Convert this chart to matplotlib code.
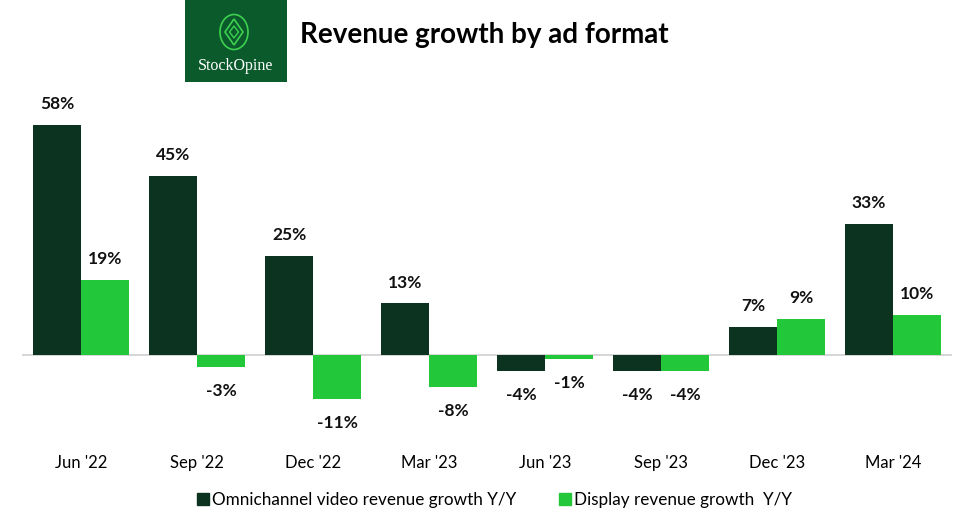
import matplotlib
matplotlib.use("Agg")
import matplotlib.pyplot as plt
from matplotlib.patches import Rectangle, Ellipse, Polygon
from matplotlib.lines import Line2D
import numpy as np

categories = ["Jun '22", "Sep '22", "Dec '22", "Mar '23", "Jun '23", "Sep '23", "Dec '23", "Mar '24"]
omni_video = [58, 45, 25, 13, -4, -4, 7, 33]
display = [19, -3, -11, -8, -1, -4, 9, 10]
series_names = ["Omnichannel video revenue growth Y/Y", "Display revenue growth  Y/Y"]

DARK = "#0b3320"
LIGHT = "#22c83a"
LOGO = "#0b5a2b"

plt.rcParams['font.family'] = ['Lato', 'DejaVu Sans']

W, H = 975, 532
fig = plt.figure(figsize=(W / 100, H / 100), dpi=100)

def fx(px):
    return px / W

def fy(py):
    return 1 - py / H

ax = fig.add_axes([fx(22), fy(440), fx(952) - fx(22), fy(85) - fy(440)])
x = np.arange(len(categories))
bw = 0.414
b1 = ax.bar(x - bw / 2, omni_video, bw, color=DARK, zorder=2)
b2 = ax.bar(x + bw / 2, display, bw, color=LIGHT, zorder=2)
ax.set_xlim(-0.509, 7.509)
ax.set_ylim(-21.4, 68)
ax.axhline(0, color="#d0d0d0", lw=1.2, zorder=1)
for s in ax.spines.values():
    s.set_visible(False)
ax.set_yticks([])
ax.set_xticks(x)
ax.set_xticklabels(categories, fontsize=12)
ax.tick_params(axis="x", length=0, pad=11)

for bars, vals in ((b1, omni_video), (b2, display)):
    for b, v in zip(bars, vals):
        cx = b.get_x() + b.get_width() / 2
        off = 15 if v >= 0 else -17.5
        ax.annotate(f"{v}%", (cx, v), xytext=(0, off), textcoords="offset points",
                    ha="center", va="center", fontsize=12.5, fontweight="bold", color="#111111")

# Logo
lax = fig.add_axes([fx(185), fy(82), fx(287) - fx(185), fy(0) - fy(82)])
lax.set_xlim(0, 102)
lax.set_ylim(82, 0)
lax.axis("off")
lax.add_patch(Rectangle((0, 0), 102, 82, color=LOGO))
lax.add_patch(Ellipse((49, 32), 28, 35, fill=False, ec="#3ed04f", lw=1.2))
lax.add_patch(Polygon([[49, 19], [58, 32], [49, 45], [40, 32]], closed=True, fill=False, ec="#3ed04f", lw=1.2))
lax.add_patch(Polygon([[49, 26], [53.5, 32], [49, 38], [44.5, 32]], closed=True, fill=False, ec="#3ed04f", lw=1.0))
lax.text(51, 66, "StockOpine", color="white", ha="center", va="center", fontsize=11.5,
         family="Liberation Serif")

fig.text(fx(300), fy(35), "Revenue growth by ad format", fontsize=20, fontweight="bold",
         ha="left", va="center", color="black")

handles = [Line2D([], [], marker="s", ls="none", color=DARK, markersize=9),
           Line2D([], [], marker="s", ls="none", color=LIGHT, markersize=9)]
fig.legend(handles, series_names, loc="center", bbox_to_anchor=(fx(494), fy(500)), ncol=2,
           frameon=False, fontsize=12.3, handletextpad=0.1, columnspacing=2.5, handlelength=0.8)

fig.savefig("out.png", dpi=100)
